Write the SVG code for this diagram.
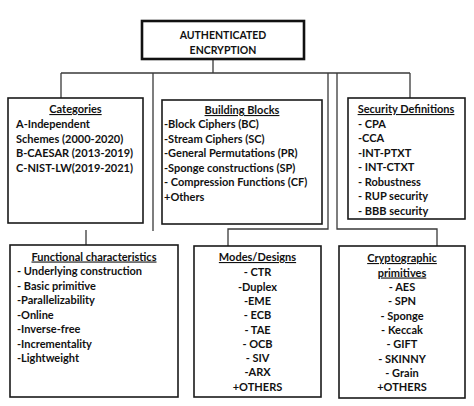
<svg xmlns="http://www.w3.org/2000/svg" width="474" height="406" viewBox="0 0 474 406">
<style>
text{font-family:Lato,"Liberation Sans",sans-serif;font-weight:700;font-size:11px;fill:#111}
.c{text-anchor:middle}
.h{text-decoration:underline}
.t{font-size:10.5px}
.box{fill:#fff;stroke:#1a1a1a;stroke-width:1.6}
.top{fill:#fff;stroke:#111;stroke-width:2.6}
.conn{fill:none;stroke:#3a3a3a;stroke-width:1.3}
</style>
<rect width="474" height="406" fill="#fff"/>
<g id="connectors">
<path class="conn" d="M213,59V73M61,73H410M61,73V98M410,73V98M153,73V231M328,73V229H228V246M337,73V229H437V246M86,230V245"/>
</g>
<g id="ae">
<rect class="top" x="142" y="21" width="162" height="38"/>
<text class="c t" x="223" y="38.5">AUTHENTICATED</text>
<text class="c t" x="223" y="53.5">ENCRYPTION</text>
</g>
<g id="categories">
<rect class="box" x="8" y="98" width="135" height="125"/>
<text class="c h" x="75.5" y="113">Categories</text>
<text x="16" y="128">A-Independent</text>
<text x="16" y="142.5">Schemes (2000-2020)</text>
<text x="16" y="157">B-CAESAR (2013-2019)</text>
<text x="16" y="171.5">C-NIST-LW(2019-2021)</text>
</g>
<g id="building-blocks">
<rect class="box" x="162" y="100" width="160" height="124"/>
<text class="c h" x="242" y="114">Building Blocks</text>
<text x="164" y="128">-Block Ciphers (BC)</text>
<text x="164" y="142.5">-Stream Ciphers (SC)</text>
<text x="164" y="157">-General Permutations (PR)</text>
<text x="164" y="171.5">-Sponge constructions (SP)</text>
<text x="164" y="186">- Compression Functions (CF)</text>
<text x="164" y="200.5">+Others</text>
</g>
<g id="security">
<rect class="box" x="348" y="98" width="117" height="121"/>
<text class="c h" x="406" y="113">Security Definitions</text>
<text x="358" y="127.5">- CPA</text>
<text x="358" y="142">-CCA</text>
<text x="358" y="156.5">-INT-PTXT</text>
<text x="358" y="171">- INT-CTXT</text>
<text x="358" y="185.5">- Robustness</text>
<text x="358" y="200">- RUP security</text>
<text x="358" y="214.5">- BBB security</text>
</g>
<g id="functional">
<rect class="box" x="10" y="245" width="168" height="152"/>
<text class="c h" x="94" y="260.5">Functional characteristics</text>
<text x="17" y="275">- Underlying construction</text>
<text x="17" y="289.5">- Basic primitive</text>
<text x="17" y="304">-Parallelizability</text>
<text x="17" y="318.5">-Online</text>
<text x="17" y="333">-Inverse-free</text>
<text x="17" y="347.5">-Incrementality</text>
<text x="17" y="362">-Lightweight</text>
</g>
<g id="modes">
<rect class="box" x="194" y="246" width="127" height="151"/>
<text class="c h" x="257.5" y="261">Modes/Designs</text>
<text class="c" x="257.5" y="276">- CTR</text>
<text class="c" x="257.5" y="290.5">-Duplex</text>
<text class="c" x="257.5" y="304.5">-EME</text>
<text class="c" x="257.5" y="319">- ECB</text>
<text class="c" x="257.5" y="333.5">- TAE</text>
<text class="c" x="257.5" y="347.5">- OCB</text>
<text class="c" x="257.5" y="362">- SIV</text>
<text class="c" x="257.5" y="376">-ARX</text>
<text class="c" x="257.5" y="390.5">+OTHERS</text>
</g>
<g id="primitives">
<rect class="box" x="339" y="246" width="126" height="152"/>
<text class="c h" x="402" y="262">Cryptographic</text>
<text class="c h" x="402" y="276.5">primitives</text>
<text class="c" x="402" y="291">- AES</text>
<text class="c" x="402" y="305">- SPN</text>
<text class="c" x="402" y="319.5">- Sponge</text>
<text class="c" x="402" y="334">- Keccak</text>
<text class="c" x="402" y="348">- GIFT</text>
<text class="c" x="402" y="362.5">- SKINNY</text>
<text class="c" x="402" y="376.5">- Grain</text>
<text class="c" x="402" y="391">+OTHERS</text>
</g>
</svg>
